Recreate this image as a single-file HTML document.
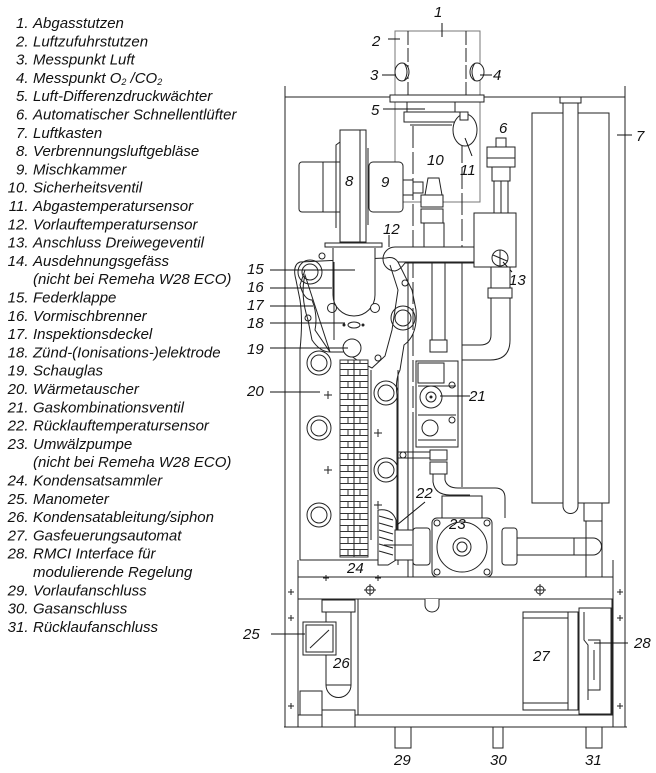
<!DOCTYPE html>
<html><head><meta charset="utf-8"><style>
html,body{margin:0;padding:0;background:#fff;}
svg{display:block}
text{font-family:"Liberation Sans",Arial,sans-serif;font-style:italic;font-size:15px;fill:#111}
.k{fill:none;stroke:#222;stroke-width:1}
.g{fill:none;stroke:#777;stroke-width:1}
.w{fill:#fff;stroke:#222;stroke-width:1}
.t{stroke:#111;stroke-width:1}
</style></head><body>
<svg width="656" height="773" viewBox="0 0 656 773" xmlns="http://www.w3.org/2000/svg">
<defs>
<pattern id="br" x="340" y="357" width="28" height="12" patternUnits="userSpaceOnUse">
<rect width="28" height="12" fill="#fff"/>
<path d="M0 0.5H28M0 6.5H28M8 0.5V6.5M20 0.5V6.5M14 6.5V12" stroke="#333" stroke-width="1" fill="none"/>
</pattern>
</defs>

<!-- ===== LIST ===== -->
<g>
<text x="28.5" y="28" text-anchor="end">1.</text><text x="33" y="28">Abgasstutzen</text>
<text x="28.5" y="46.3" text-anchor="end">2.</text><text x="33" y="46.3">Luftzufuhrstutzen</text>
<text x="28.5" y="64.6" text-anchor="end">3.</text><text x="33" y="64.6">Messpunkt Luft</text>
<text x="28.5" y="82.9" text-anchor="end">4.</text><text x="33" y="82.9">Messpunkt O<tspan font-size="9" dy="2">2</tspan><tspan dy="-2"> /CO</tspan><tspan font-size="9" dy="2">2</tspan></text>
<text x="28.5" y="101.2" text-anchor="end">5.</text><text x="33" y="101.2">Luft-Differenzdruckwächter</text>
<text x="28.5" y="119.5" text-anchor="end">6.</text><text x="33" y="119.5">Automatischer Schnellentlüfter</text>
<text x="28.5" y="137.8" text-anchor="end">7.</text><text x="33" y="137.8">Luftkasten</text>
<text x="28.5" y="156.1" text-anchor="end">8.</text><text x="33" y="156.1">Verbrennungsluftgebläse</text>
<text x="28.5" y="174.4" text-anchor="end">9.</text><text x="33" y="174.4">Mischkammer</text>
<text x="28.5" y="192.7" text-anchor="end">10.</text><text x="33" y="192.7">Sicherheitsventil</text>
<text x="28.5" y="211" text-anchor="end">11.</text><text x="33" y="211">Abgastemperatursensor</text>
<text x="28.5" y="229.3" text-anchor="end">12.</text><text x="33" y="229.3">Vorlauftemperatursensor</text>
<text x="28.5" y="247.6" text-anchor="end">13.</text><text x="33" y="247.6">Anschluss Dreiwegeventil</text>
<text x="28.5" y="265.9" text-anchor="end">14.</text><text x="33" y="265.9">Ausdehnungsgefäss</text>
<text x="33" y="284.2">(nicht bei Remeha W28 ECO)</text>
<text x="28.5" y="302.5" text-anchor="end">15.</text><text x="33" y="302.5">Federklappe</text>
<text x="28.5" y="320.8" text-anchor="end">16.</text><text x="33" y="320.8">Vormischbrenner</text>
<text x="28.5" y="339.1" text-anchor="end">17.</text><text x="33" y="339.1">Inspektionsdeckel</text>
<text x="28.5" y="357.4" text-anchor="end">18.</text><text x="33" y="357.4">Zünd-(Ionisations-)elektrode</text>
<text x="28.5" y="375.7" text-anchor="end">19.</text><text x="33" y="375.7">Schauglas</text>
<text x="28.5" y="394" text-anchor="end">20.</text><text x="33" y="394">Wärmetauscher</text>
<text x="28.5" y="412.3" text-anchor="end">21.</text><text x="33" y="412.3">Gaskombinationsventil</text>
<text x="28.5" y="430.6" text-anchor="end">22.</text><text x="33" y="430.6">Rücklauftemperatursensor</text>
<text x="28.5" y="448.9" text-anchor="end">23.</text><text x="33" y="448.9">Umwälzpumpe</text>
<text x="33" y="467.2">(nicht bei Remeha W28 ECO)</text>
<text x="28.5" y="485.5" text-anchor="end">24.</text><text x="33" y="485.5">Kondensatsammler</text>
<text x="28.5" y="503.8" text-anchor="end">25.</text><text x="33" y="503.8">Manometer</text>
<text x="28.5" y="522.1" text-anchor="end">26.</text><text x="33" y="522.1">Kondensatableitung/siphon</text>
<text x="28.5" y="540.4" text-anchor="end">27.</text><text x="33" y="540.4">Gasfeuerungsautomat</text>
<text x="28.5" y="558.7" text-anchor="end">28.</text><text x="33" y="558.7">RMCI Interface für</text>
<text x="33" y="577">modulierende Regelung</text>
<text x="28.5" y="595.3" text-anchor="end">29.</text><text x="33" y="595.3">Vorlaufanschluss</text>
<text x="28.5" y="613.6" text-anchor="end">30.</text><text x="33" y="613.6">Gasanschluss</text>
<text x="28.5" y="631.9" text-anchor="end">31.</text><text x="33" y="631.9">Rücklaufanschluss</text>
</g>

<!-- ===== FLUE ===== -->
<rect class="g" x="395" y="31" width="85" height="171"/>
<path class="k" d="M408 31V100M466 31V100" stroke-dasharray="14 3"/>
<path class="k" d="M413 100V420M462 115V245" stroke-dasharray="22 4"/>
<path class="k" d="M462 245V487"/>
<ellipse class="w" cx="402" cy="72" rx="7" ry="9"/><path class="k" d="M404 63Q410 72 404 81"/>
<ellipse class="w" cx="477" cy="72" rx="7" ry="9"/><path class="k" d="M475 63Q469 72 475 81"/>
<text x="434" y="17">1</text><path class="t" d="M442 23V37"/>
<text x="372" y="46">2</text><path class="t" d="M388 39H400"/>
<text x="370" y="80">3</text><path class="t" d="M382 75H396"/>
<text x="493" y="80">4</text><path class="t" d="M480 75H492"/>

<!-- ===== CASE ===== -->
<path class="k" d="M285 97H625" stroke-width="1.6"/>
<path class="k" d="M285 86V727M625 86V727" stroke-width="1.2"/>
<path class="k" d="M298 560V727M613 560V727"/>

<!-- part 5 -->
<rect class="w" x="390" y="95" width="94" height="7"/>
<rect class="w" x="407" y="102" width="48" height="10"/>
<rect class="w" x="404" y="112" width="56" height="10"/>
<path class="k" d="M410 125H452"/>
<text x="371" y="115">5</text><path class="t" d="M383 109H425"/>
<!-- 11 -->
<ellipse class="w" cx="465" cy="130" rx="12" ry="16"/>
<rect class="w" x="460" y="112" width="8" height="8"/>
<path class="t" d="M465 138L472 156"/>
<text x="460" y="175">11</text>

<!-- fan 8 -->
<rect class="w" x="299" y="162" width="26" height="50" rx="3"/>
<rect class="w" x="323" y="162" width="18" height="50"/>
<rect class="w" x="340" y="130" width="20" height="112"/>
<path class="k" d="M340 142L336 145V228"/>
<rect class="w" x="360" y="130" width="6" height="112"/>
<path class="k" d="M368 148V225"/>
<rect class="w" x="369" y="162" width="34" height="50" rx="4"/>
<text x="345" y="186">8</text>
<text x="381" y="187">9</text>
<rect class="w" x="403" y="180" width="10" height="15"/>
<rect class="w" x="413" y="182" width="10" height="11"/>
<!-- 10 -->
<path class="w" d="M425 195L428 178H439L442 195Z"/>
<rect class="w" x="421" y="195" width="22" height="12"/>
<rect class="w" x="421" y="209" width="22" height="14"/>
<path class="w" d="M424 223V246A10 10 0 0 0 444 246V223Z"/>
<text x="427" y="165">10</text>

<!-- 6 & box 13 -->
<rect class="w" x="496" y="138" width="10" height="9"/>
<rect class="w" x="487" y="147" width="28" height="20"/>
<path class="k" d="M487 158H515"/>
<rect class="w" x="492" y="167" width="18" height="14"/>
<rect class="w" x="494" y="181" width="14" height="32"/>
<path class="k" d="M501 181V213"/>
<text x="499" y="133">6</text>
<rect class="w" x="474" y="213" width="42" height="54"/>
<circle class="w" cx="500" cy="258" r="8"/><path class="k" d="M493 255L507 261M500 250V266"/>
<path class="t" d="M503 262L512 272"/>
<text x="509" y="285">13</text>
<text x="537" y="285">14</text>
<!-- pipe 12 -->
<path class="w" d="M474 247H395A12 12 0 0 0 395 271Q400 270 405 263H474Z"/>
<path class="k" d="M398 262H474"/>
<text x="383" y="234">12</text><path class="t" d="M389 235V247"/>

<!-- expansion vessel 14 -->
<rect class="w" x="532" y="113" width="77" height="390"/>
<path class="w" d="M563 100V506A7.5 7.5 0 0 0 578 506V100Z"/>
<rect class="w" x="560" y="97" width="21" height="6"/>
<text x="636" y="141">7</text><path class="t" d="M617 135H632"/>

<!-- return pipe from 13 -->
<path class="w" d="M491 267V335Q491 345 480 345H462V360H490Q510 360 510 340V267Z"/>
<rect class="w" x="488" y="288" width="24" height="10"/>

<!-- ===== HEAT EXCHANGER ===== -->
<path class="k" stroke="#444" d="M300 262Q292 265 296 280L300 300Q303 320 300 350L300 560H397V395Q395 380 400 370L404 345Q418 335 416 310L412 290L398 262Q394 256 386 258Z"/>
<path class="k" stroke="#666" d="M305 275Q300 295 308 320L312 340Q320 352 330 352Z"/>
<path class="k" d="M305 270L300 285Q304 300 312 300Q318 315 315 330L330 352H345L360 362L372 368L385 356L392 330L398 290L390 265"/>
<!-- burner / plate -->
<rect class="w" x="325" y="243" width="57" height="4"/>
<path class="k" d="M334 250V262H356V250M340 258V283H345V258"/>
<path class="w" d="M333 248V295A21 21 0 0 0 375 295V248"/>
<circle class="w" cx="332" cy="308" r="4.5"/><circle class="w" cx="375" cy="308" r="4.5"/>
<ellipse class="w" cx="354" cy="325" rx="6" ry="3"/><circle cx="344" cy="325" r="1.5" fill="#222"/><circle cx="363" cy="325" r="1.5" fill="#222"/>
<circle class="w" cx="352" cy="348" r="9"/>
<path class="k" d="M334 262V340"/>
<!-- rings -->
<g class="k" stroke="#333">
<circle cx="310" cy="272" r="12"/><circle cx="310" cy="272" r="8"/>
<circle cx="319" cy="363" r="12"/><circle cx="319" cy="363" r="8"/>
<circle cx="319" cy="428" r="12"/><circle cx="319" cy="428" r="8"/>
<circle cx="319" cy="515" r="12"/><circle cx="319" cy="515" r="8"/>
<circle cx="403" cy="318" r="12"/><circle cx="403" cy="318" r="8"/>
<circle cx="386" cy="393" r="12"/><circle cx="386" cy="393" r="8"/>
<circle cx="386" cy="470" r="12"/><circle cx="386" cy="470" r="8"/>
</g>
<path class="k" d="M324 395h8M328 391v8M374 433h8M378 429v8M324 470h8M328 466v8M374 505h8M378 501v8"/>
<g class="k"><circle cx="308" cy="318" r="3"/><circle cx="405" cy="283" r="3"/><circle cx="378" cy="358" r="3"/><circle cx="322" cy="256" r="3"/></g>
<!-- bricks -->
<rect x="340" y="360" width="28" height="197" fill="url(#br)" stroke="#333"/>
<path class="k" d="M354 360V557"/>
<path class="k" d="M371 370V540M398 370V565M408 262V577M413 420V577"/>

<!-- left labels -->
<text x="247" y="274">15</text><path class="t" d="M270 270H355"/>
<text x="247" y="292">16</text><path class="t" d="M270 288H332"/>
<text x="247" y="310">17</text><path class="t" d="M270 306H313"/>
<text x="247" y="328">18</text><path class="t" d="M270 323H345"/>
<text x="247" y="354">19</text><path class="t" d="M270 348H348"/>
<text x="247" y="396">20</text><path class="t" d="M270 392H320"/>

<!-- gas pipe + valve 21 -->
<path class="k" d="M432 262V340M445 262V340"/>
<rect class="w" x="430" y="340" width="17" height="12"/>
<rect class="w" x="416" y="361" width="42" height="86"/>
<rect class="w" x="418" y="363" width="26" height="20"/>
<path class="k" d="M418 386H456M418 415H456M418 440H456"/>
<circle class="w" cx="431" cy="397" r="11"/><circle class="w" cx="431" cy="397" r="5"/><circle cx="431" cy="397" r="1.5" fill="#222"/>
<circle class="w" cx="430" cy="428" r="8"/>
<circle class="k" cx="452" cy="385" r="3"/><circle class="k" cx="452" cy="420" r="3"/>
<text x="469" y="401">21</text><path class="t" d="M440 396H470"/>
<path class="k" d="M398 458H438L444 450M398 452H438"/>
<circle class="k" cx="403" cy="455" r="3"/>
<rect class="w" x="430" y="450" width="17" height="10"/>
<rect class="w" x="430" y="462" width="17" height="12"/>
<path class="k" d="M433 474V482Q435 495 450 495H470M445 474V480Q447 488 458 488H495Q505 488 505 498V518"/>

<!-- 22 / 24 -->
<text x="416" y="498">22</text><path class="t" d="M425 502L397 525"/>
<path class="w" d="M378 510Q392 508 396 520V560L388 565H378Z"/>
<path class="k" d="M379 516l14 4M379 523l14 4M379 530l14 4M379 537l14 4M379 544l14 4M379 551l14 4"/>
<rect class="w" x="395" y="530" width="18" height="30"/>
<path class="k" d="M384 545H412"/>
<text x="347" y="573">24</text>

<!-- pump 23 -->
<rect class="w" x="442" y="496" width="40" height="22"/>
<rect class="w" x="432" y="518" width="60" height="59" rx="5"/>
<circle class="w" cx="462" cy="547" r="25"/>
<circle class="w" cx="462" cy="547" r="9"/><circle class="w" cx="462" cy="547" r="5"/>
<g class="k"><circle cx="437" cy="523" r="3"/><circle cx="487" cy="523" r="3"/><circle cx="437" cy="572" r="3"/><circle cx="487" cy="572" r="3"/></g>
<rect class="w" x="413" y="528" width="17" height="37" rx="3"/>
<rect class="w" x="502" y="528" width="15" height="37" rx="3"/>
<path class="w" d="M517 538H593A8.5 8.5 0 0 1 593 555H517Z"/>
<path class="k" d="M574 538V555"/>
<text x="449" y="529" fill="#333">23</text>
<!-- return pipe to 31 -->
<rect class="w" x="584" y="503" width="18" height="18"/>
<path class="k" d="M586 521V577M602 521V577"/>

<!-- ===== LOWER BOX ===== -->
<rect class="w" x="298" y="577" width="315" height="22"/>
<path class="k" d="M284 727H627M298 715H613"/>
<rect class="w" x="358" y="599" width="254" height="116"/>
<path class="w" d="M425 599V605A7 7 0 0 0 439 605V599"/>
<g class="k">
<circle cx="370" cy="590" r="4"/><path d="M364 590h12M370 584v12"/>
<circle cx="540" cy="590" r="4"/><path d="M534 590h12M540 584v12"/>
<path d="M288 592h6M291 589v6M288 618h6M291 615v6M288 706h6M291 703v6M617 592h6M620 589v6M617 618h6M620 615v6M617 706h6M620 703v6M323 578h6M326 575v6M375 578h6M378 575v6"/>
</g>
<!-- siphon 26 -->
<rect class="w" x="322" y="600" width="33" height="12"/>
<path class="k" d="M326 612V685M351 612V685"/>
<path class="w" d="M326 685A12.5 12.5 0 0 0 351 685Z"/>
<rect class="w" x="322" y="710" width="33" height="17"/>
<rect class="w" x="300" y="691" width="22" height="24"/>
<!-- manometer 25 -->
<rect class="w" x="303" y="622" width="33" height="33" stroke-width="1.5"/>
<rect class="k" x="306" y="625" width="27" height="27"/>
<path class="k" d="M310 648L329 630"/>
<text x="243" y="639">25</text><path class="t" d="M271 634H305"/>
<text x="333" y="668">26</text>
<!-- 27 -->
<rect class="w" x="523" y="612" width="45" height="98"/>
<path class="k" d="M523 618H568M523 703H568"/>
<rect class="w" x="568" y="612" width="10" height="98"/>
<text x="533" y="661">27</text>
<!-- 28 -->
<rect class="w" x="579" y="608" width="32" height="106"/>
<path class="k" d="M584 612V640L588 645V700M588 640H600V690H588M594 650V680"/>
<text x="634" y="648">28</text><path class="t" d="M594 643H628"/>
<!-- stubs -->
<rect class="w" x="395" y="727" width="16" height="21"/>
<rect class="w" x="493" y="727" width="10" height="21"/>
<rect class="w" x="586" y="727" width="16" height="21"/>
<text x="394" y="765">29</text>
<text x="490" y="765">30</text>
<text x="585" y="765">31</text>
</svg>
</body></html>
